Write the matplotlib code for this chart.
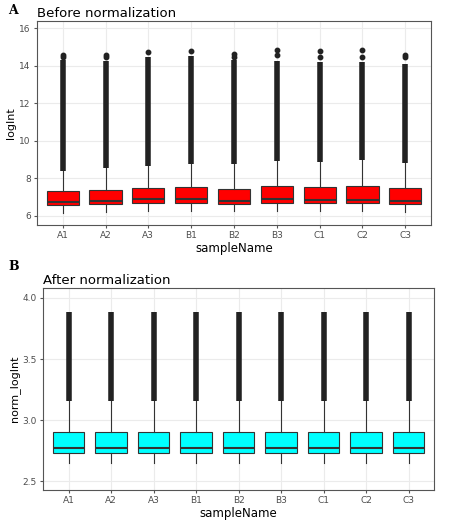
import matplotlib
matplotlib.use("Agg")
import matplotlib.pyplot as plt

samples = ["A1","A2","A3","B1","B2","B3","C1","C2","C3"]
# Before normalization stats
b_q1 = [6.55,6.62,6.70,6.70,6.62,6.65,6.65,6.65,6.60]
b_med = [6.72,6.78,6.88,6.88,6.80,6.88,6.85,6.85,6.80]
b_q3 = [7.30,7.38,7.50,7.55,7.45,7.58,7.55,7.58,7.50]
b_lo = [6.15,6.20,6.25,6.25,6.25,6.25,6.25,6.25,6.20]
b_hi = [8.40,8.55,8.65,8.75,8.75,8.90,8.85,8.95,8.80]
b_outtop = [14.30,14.25,14.50,14.55,14.30,14.25,14.20,14.20,14.10]
b_extra = [[14.45,14.6],[14.5,14.6],[14.75],[14.8],[14.5,14.65],[14.6,14.85],[14.5,14.8],[14.5,14.85],[14.45,14.6]]
# After normalization stats
a_q1 = [2.73]*9
a_med = [2.77]*9
a_q3 = [2.905]*9
a_lo = [2.65]*9
a_hi = [3.16]*9
a_outtop = [3.88]*9

fig = plt.figure(figsize=(4.74,5.32), dpi=100)
ax1 = fig.add_axes([37/474, 1-225/532, 394/474, 204/532])
ax2 = fig.add_axes([43/474, 1-490/532, 391/474, 202/532])

def draw(ax, q1, med, q3, lo, hi, outtop, color, extra=None):
    stats = [dict(q1=a, med=m, q3=b, whislo=l, whishi=h, fliers=[]) for a,m,b,l,h in zip(q1,med,q3,lo,hi)]
    pos = list(range(1, len(q1)+1))
    ax.vlines(pos, hi, outtop, color="#222222", lw=4, zorder=2)
    if extra:
        for p, ex in zip(pos, extra):
            ax.plot([p]*len(ex), ex, "o", color="#222222", ms=3.2, zorder=2)
    ax.bxp(stats, positions=pos, widths=0.75, patch_artist=True, showfliers=False, showcaps=False,
           boxprops=dict(facecolor=color, edgecolor="#333333", lw=0.8),
           medianprops=dict(color="#333333", lw=1.5),
           whiskerprops=dict(color="#333333", lw=0.8), zorder=3)
    ax.set_xticks(pos)
    ax.set_xticklabels(samples)
    ax.set_xlim(0.4, len(q1)+0.6)
    ax.grid(True, color="#ebebeb", lw=0.8)
    ax.set_axisbelow(True)
    for s in ax.spines.values():
        s.set_color("#555555")
    ax.tick_params(colors="#555555", labelsize=6.5, length=2.5, pad=2)
    for t in ax.get_xticklabels()+ax.get_yticklabels():
        t.set_color("#4d4d4d")
    ax.set_xlabel("sampleName", fontsize=8.5, labelpad=1)

draw(ax1, b_q1, b_med, b_q3, b_lo, b_hi, b_outtop, "#ff0000", b_extra)
ax1.set_ylim(5.5, 16.4)
ax1.set_yticks([6,8,10,12,14,16])
ax1.set_ylabel("logInt", fontsize=8, labelpad=2)
ax1.set_title("Before normalization", loc="left", fontsize=9.5, pad=3)

draw(ax2, a_q1, a_med, a_q3, a_lo, a_hi, a_outtop, "#00ffff")
ax2.set_ylim(2.43, 4.08)
ax2.set_yticks([2.5,3.0,3.5,4.0])
ax2.set_ylabel("norm_logInt", fontsize=8, labelpad=2)
ax2.set_title("After normalization", loc="left", fontsize=9.5, pad=3)

fig.text(8/474, 1-14/532, "A", fontsize=9, fontweight="bold", family="DejaVu Serif")
fig.text(8/474, 1-270/532, "B", fontsize=9, fontweight="bold", family="DejaVu Serif")
fig.savefig("out.png", dpi=100)
